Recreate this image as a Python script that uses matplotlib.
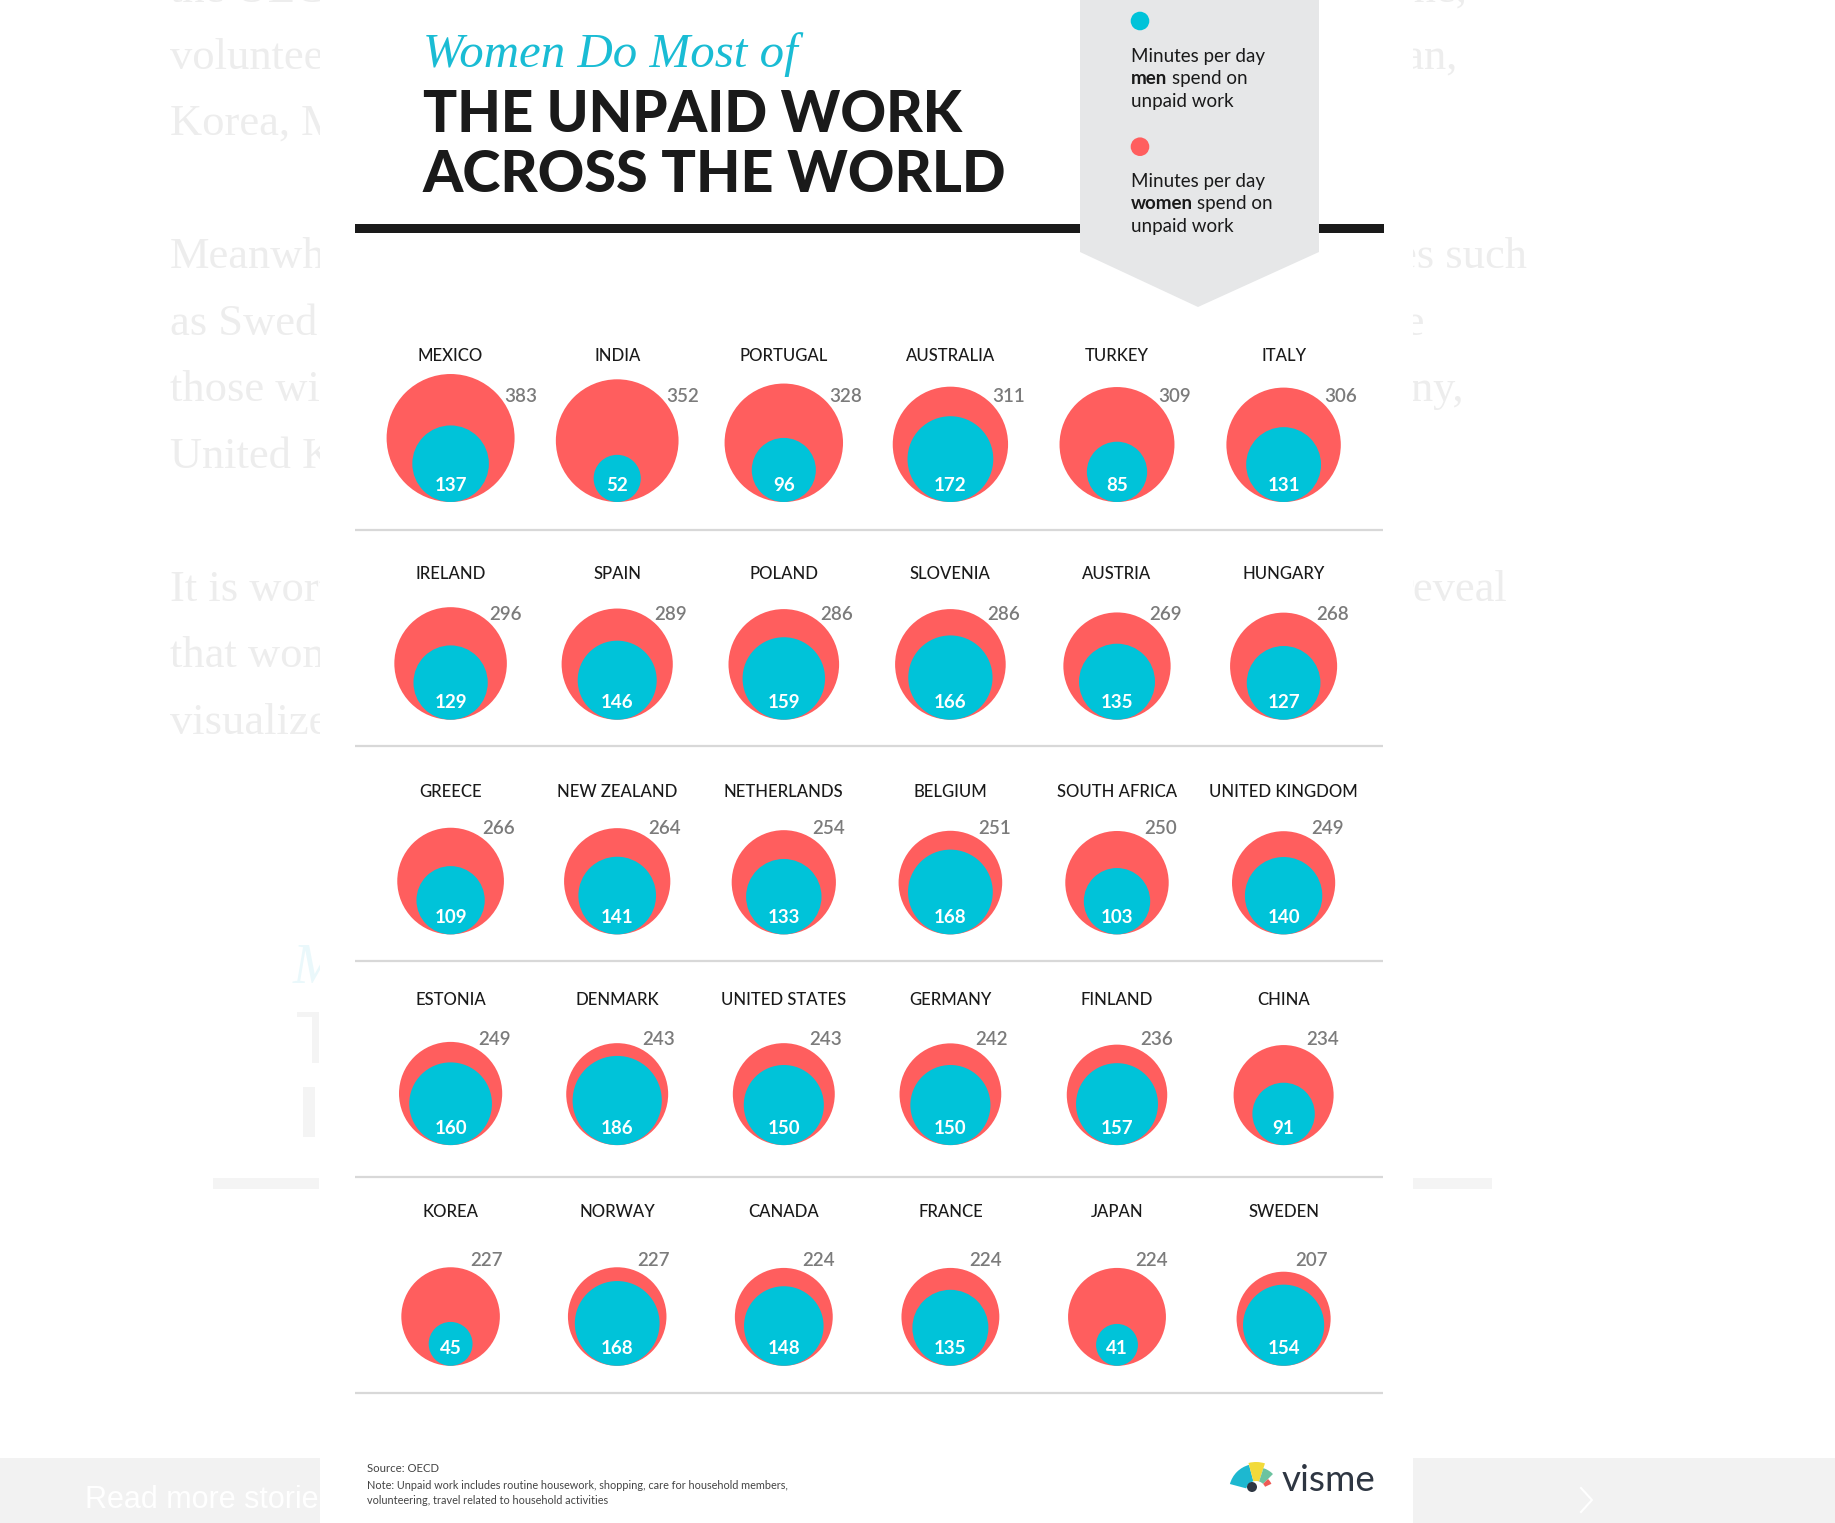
import numpy as np
import matplotlib.pyplot as plt
from matplotlib.patches import Circle, Rectangle, Polygon, Wedge

# minutes per day spent on unpaid work (OECD)
countries = ["MEXICO", "INDIA", "PORTUGAL", "AUSTRALIA", "TURKEY", "ITALY",
             "IRELAND", "SPAIN", "POLAND", "SLOVENIA", "AUSTRIA", "HUNGARY",
             "GREECE", "NEW ZEALAND", "NETHERLANDS", "BELGIUM", "SOUTH AFRICA", "UNITED KINGDOM",
             "ESTONIA", "DENMARK", "UNITED STATES", "GERMANY", "FINLAND", "CHINA",
             "KOREA", "NORWAY", "CANADA", "FRANCE", "JAPAN", "SWEDEN"]
women = [383, 352, 328, 311, 309, 306,
         296, 289, 286, 286, 269, 268,
         266, 264, 254, 251, 250, 249,
         249, 243, 243, 242, 236, 234,
         227, 227, 224, 224, 224, 207]
men = [137, 52, 96, 172, 85, 131,
       129, 146, 159, 166, 135, 127,
       109, 141, 133, 168, 103, 140,
       160, 186, 150, 150, 157, 91,
       45, 168, 148, 135, 41, 154]

RED = "#FF5E5E"
CYAN = "#00C3D9"
TITLE_CYAN = "#1ABCD4"
DARK = "#1A1A1A"
NUM_GRAY = "#7B7B7B"
GHOST = "#EDEDED"

W, H = 1835, 1523
fig = plt.figure(figsize=(W / 100, H / 100), dpi=100)
ax = fig.add_axes([0, 0, 1, 1])
ax.set_xlim(0, W)
ax.set_ylim(H, 0)
ax.axis("off")
renderer = fig.canvas.get_renderer()


def fit_width(t, width):
    bb = t.get_window_extent(renderer=renderer)
    t.set_fontsize(t.get_fontsize() * width / bb.width)
    return t


def text_width(t):
    return t.get_window_extent(renderer=renderer).width


# ---- faded web page behind the infographic ----
PANEL_L, PANEL_R = 319.5, 1412.5
left_clip = Rectangle((0, 0), PANEL_L, H, transform=ax.transData)
left_lines = ["the OEC", "voluntee", "Korea, Me", "", "Meanwh", "as Swed",
              "those wi", "United K", "", "It is wort", "that wom", "visualize"]
right_lines = ["done,", "Japan,", "", "", "es such", "the", "ny,", "", "", "reveal", "", ""]
right_ends = [1467, 1457, 0, 0, 1527, 1425, 1463, 0, 0, 1507, 0, 0]
for k, s in enumerate(left_lines):
    if s:
        t = ax.text(170, 2 + 66.5 * k, s, family="Liberation Serif", fontsize=32, color=GHOST,
                    va="baseline", zorder=1)
        t.set_clip_path(left_clip)
for k, s in enumerate(right_lines):
    if s:
        ax.text(right_ends[k], 2 + 66.5 * k, s, family="Liberation Serif", fontsize=32,
                color=GHOST, ha="right", va="baseline", zorder=1)
t = ax.text(293, 983, "M", family="Liberation Serif", style="italic", fontsize=40,
            color="#EAF8FB", va="baseline", zorder=1)
t.set_clip_path(left_clip)
for x0, y0, w0, h0 in [(296.7, 1012, 22, 5), (312.3, 1012, 7, 51), (302.7, 1086.7, 12.3, 50.6),
                       (213, 1177.7, 106, 11.6), (1413, 1177.7, 79, 11.6)]:
    ax.add_patch(Rectangle((x0, y0), w0, h0, fc="#F4F4F4", ec="none", zorder=1))
ax.add_patch(Rectangle((0, 1457.5), W, H - 1457.5, fc="#F2F2F2", ec="none", zorder=1))
t = ax.text(85, 1508, "Read more storie", family=["Liberation Sans Narrow", "Liberation Sans"],
            fontsize=22, color="white", va="baseline", zorder=1)
t.set_clip_path(left_clip)
ax.plot([1581, 1592, 1581], [1488, 1500, 1512], color="white", lw=1.5, zorder=1)

# ---- infographic panel ----
ax.add_patch(Rectangle((PANEL_L, 0), PANEL_R - PANEL_L, H, fc="white", ec="none", zorder=2))

# header
t = ax.text(423, 66.7, "Women Do Most of", family="Liberation Serif", style="italic",
            fontsize=34, color=TITLE_CYAN, va="baseline", zorder=5)
fit_width(t, 375)
for s, yb, wd in [("THE UNPAID WORK", 131.7, 540), ("ACROSS THE WORLD", 191.7, 584)]:
    t = ax.text(422.5, yb, s, family="Lato", fontweight="black", fontsize=42,
                color=DARK, va="baseline", zorder=5)
    fit_width(t, wd)
ax.add_patch(Rectangle((354.5, 224), 1029.5, 8.7, fc=DARK, ec="none", zorder=5))

# legend box
ax.add_patch(Polygon([(1080, -5), (1319, -5), (1319, 252), (1198, 307), (1080, 252)],
                     closed=True, fc="#E6E7E8", ec="none", zorder=6))
legend_items = [(CYAN, "men", 21, 61.5), (RED, "women", 146.7, 186.7)]
for color, who, dot_y, yb in legend_items:
    ax.add_patch(Circle((1140, dot_y), 9.3, fc=color, ec="none", zorder=7))
    ax.text(1130.8, yb, "Minutes per day", family="Lato", fontsize=13.5, color=DARK,
            va="baseline", zorder=7)
    tb = ax.text(1130.8, yb + 22.5, who, family="Lato", fontweight="bold", fontsize=13.5,
                 color=DARK, va="baseline", zorder=7)
    ax.text(1130.8 + text_width(tb) + 4.5, yb + 22.5, "spend on", family="Lato", fontsize=13.5,
            color=DARK, va="baseline", zorder=7)
    ax.text(1130.8, yb + 45, "unpaid work", family="Lato", fontsize=13.5, color=DARK,
            va="baseline", zorder=7)

# bubble grid: area proportional to minutes, circles share a bottom point
ncol = 6
scale = 3.27
col_x = 450.6 + 166.6 * np.arange(ncol)
nrow = int(np.ceil(len(countries) / ncol))
line_y = 530 + 215.7 * np.arange(nrow)
name_lift = [169, 167, 164, 172, 176]      # country name baseline above the row rule
bottom_gap = [28, 26, 27, 32, 27]          # circle bottoms above the row rule

for y in line_y:
    ax.plot([354.5, 1383], [y, y], color="#D8D8D8", lw=1.6, zorder=3, solid_capstyle="butt")

for i, (name, w, m) in enumerate(zip(countries, women, men)):
    row, col = divmod(i, ncol)
    cx = col_x[col]
    bottom = line_y[row] - bottom_gap[row]
    rw = scale * np.sqrt(w)
    rm = scale * np.sqrt(m)
    ax.add_patch(Circle((cx, bottom - rw), rw, fc=RED, ec="none", zorder=3))
    ax.add_patch(Circle((cx, bottom - rm), rm, fc=CYAN, ec="none", zorder=4))
    ax.text(cx, line_y[row] - name_lift[row], name, family="Lato", fontweight="medium",
            fontsize=12, color=DARK, ha="center", va="baseline", zorder=5)
    ax.text(cx, bottom - 11.5, str(m), family="Lato", fontweight="bold", fontsize=13.5,
            color="white", ha="center", va="baseline", zorder=5)
    dy = 106 - rw
    dx = np.sqrt(max((rw + 18) ** 2 - dy ** 2, 0))
    ax.text(cx + dx, bottom - 100, str(w), family="Lato", fontweight="semibold", fontsize=13.5,
            color=NUM_GRAY, ha="center", va="baseline", zorder=5)

# footer
ax.text(366.7, 1472.3, "Source: OECD", family="Lato", fontsize=8.2, color="#444444",
        va="baseline", zorder=5)
t = ax.text(366.7, 1489, "Note: Unpaid work includes routine housework, shopping, care for household members,",
            family="Lato", fontsize=8.2, color="#444444", va="baseline", zorder=5)
fit_width(t, 417)
fs = t.get_fontsize()
ax.text(366.7, 1504, "volunteering, travel related to household activities", family="Lato",
        fontsize=fs, color="#444444", va="baseline", zorder=5)

# visme logo
lc = (1256, 1491)
for th1, th2, rad, col in [(-165, -105, 27, "#1DB8D0"), (-105, -72, 29, "#F2DA3A"),
                           (-72, -45, 24, "#6CC3A0"), (-45, -25, 17, "#EE5A55")]:
    ax.add_patch(Wedge(lc, rad, th1, th2, width=rad - 10, fc=col, ec="none", zorder=5))
ax.add_patch(Circle((1252, 1487), 5, fc="#2E3642", ec="none", zorder=6))
t = ax.text(1282, 1491, "visme", family="Lato", fontsize=25, color="#2E3642",
            va="baseline", zorder=5)
fit_width(t, 94)

fig.savefig("out.png", dpi=100, facecolor="white")
